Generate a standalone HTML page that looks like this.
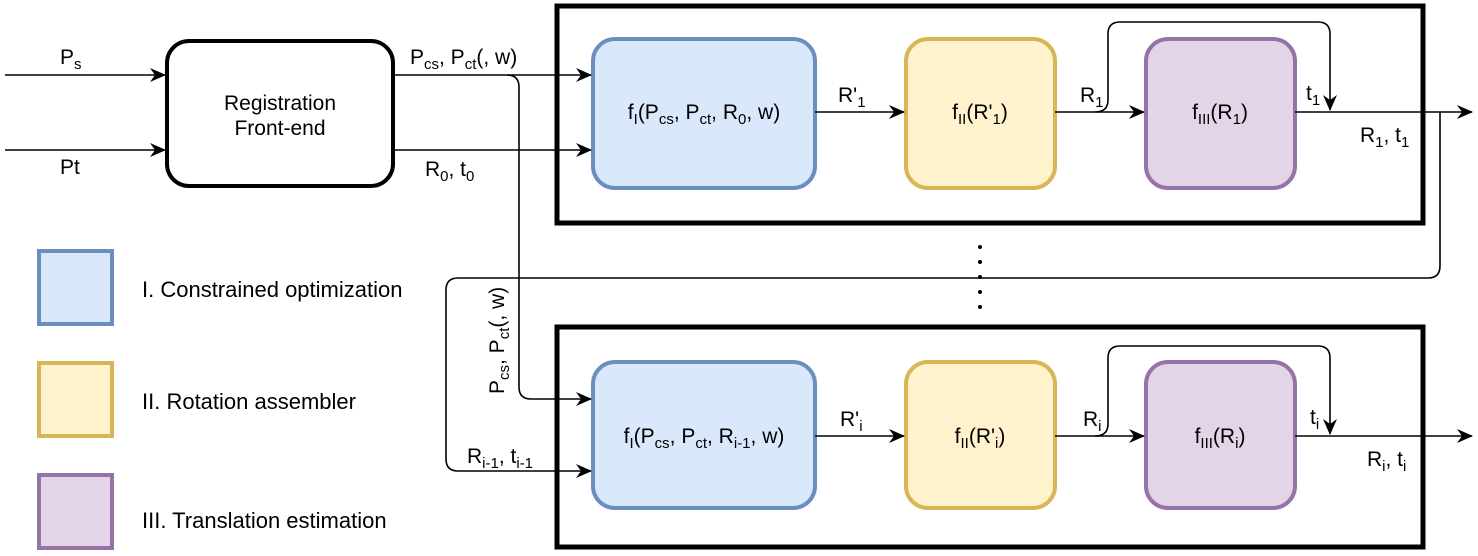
<!DOCTYPE html><html><head><style>body{margin:0;background:#fff}</style></head><body>
<svg width="1478" height="551" xmlns="http://www.w3.org/2000/svg" font-family="Liberation Sans, sans-serif" font-size="21">
<defs><marker id="a" markerWidth="16" markerHeight="14" refX="15" refY="7" orient="auto" markerUnits="userSpaceOnUse"><path d="M0,0 L16,7 L0,14 L5,7z" fill="#000"/></marker></defs>
<g fill="none" stroke="#000">
<rect x="557" y="6" width="866" height="217" stroke-width="5"/>
<rect x="557" y="327" width="866" height="220" stroke-width="5"/>
<rect x="167" y="41" width="226" height="145" rx="22" stroke-width="4"/>
</g>
<g stroke-width="4">
<rect x="593" y="39" width="222" height="149" rx="22" fill="#dae8fc" stroke="#6c8ebf"/>
<rect x="906" y="39" width="149" height="149" rx="22" fill="#fff2cc" stroke="#d6b656"/>
<rect x="1146" y="39" width="149" height="149" rx="22" fill="#e1d5e7" stroke="#9673a6"/>
<rect x="593" y="362" width="222" height="146" rx="22" fill="#dae8fc" stroke="#6c8ebf"/>
<rect x="906" y="362" width="149" height="146" rx="22" fill="#fff2cc" stroke="#d6b656"/>
<rect x="1146" y="362" width="149" height="146" rx="22" fill="#e1d5e7" stroke="#9673a6"/>
<rect x="39" y="251" width="73" height="73" fill="#dae8fc" stroke="#6c8ebf"/>
<rect x="39" y="363" width="73" height="73" fill="#fff2cc" stroke="#d6b656"/>
<rect x="39" y="475" width="73" height="73" fill="#e1d5e7" stroke="#9673a6"/>
</g>
<g fill="none" stroke="#000" stroke-width="1.6">
<path d="M5,75 H165" marker-end="url(#a)"/>
<path d="M5,150 H165" marker-end="url(#a)"/>
<path d="M395,75 H591" marker-end="url(#a)"/>
<path d="M395,150 H591" marker-end="url(#a)"/>
<path d="M507,75 Q519,75 519,87 V387 Q519,399 531,399 H591" marker-end="url(#a)"/>
<path d="M815,112 H904" marker-end="url(#a)"/>
<path d="M1055,112 H1144" marker-end="url(#a)"/>
<path d="M1095,112 Q1108,112 1108,100 V34 Q1108,22 1120,22 H1318 Q1330,22 1330,34 V110" marker-end="url(#a)"/>
<path d="M1295,112 H1472" marker-end="url(#a)"/>
<path d="M1440,112 V266 Q1440,278 1428,278 H458 Q446,278 446,290 V459 Q446,471 458,471 H591" marker-end="url(#a)"/>
<path d="M815,436 H904" marker-end="url(#a)"/>
<path d="M1055,436 H1144" marker-end="url(#a)"/>
<path d="M1095,436 Q1108,436 1108,424 V358 Q1108,346 1120,346 H1318 Q1330,346 1330,358 V434" marker-end="url(#a)"/>
<path d="M1295,436 H1472" marker-end="url(#a)"/>
</g>
<g fill="#000" stroke="none">
<circle cx="980" cy="247" r="2"/><circle cx="980" cy="262" r="2"/><circle cx="980" cy="277" r="2"/><circle cx="980" cy="292" r="2"/><circle cx="980" cy="307" r="2"/>
</g>
<g fill="#000">
<text x="60" y="64">P<tspan font-size="15" dy="5">s</tspan></text>
<text x="60" y="174">Pt</text>
<text x="280" y="110" text-anchor="middle">Registration</text>
<text x="280" y="135" text-anchor="middle">Front-end</text>
<text x="410" y="64">P<tspan font-size="15" dy="5">cs</tspan><tspan dy="-5">, P</tspan><tspan font-size="15" dy="5">ct</tspan><tspan dy="-5">(, w)</tspan></text>
<text x="425" y="176">R<tspan font-size="15" dy="5">0</tspan><tspan dy="-5">, t</tspan><tspan font-size="15" dy="5">0</tspan></text>
<text x="704" y="119" text-anchor="middle">f<tspan font-size="15" dy="5">I</tspan><tspan dy="-5">(P</tspan><tspan font-size="15" dy="5">cs</tspan><tspan dy="-5">, P</tspan><tspan font-size="15" dy="5">ct</tspan><tspan dy="-5">, R</tspan><tspan font-size="15" dy="5">0</tspan><tspan dy="-5">, w)</tspan></text>
<text x="838" y="102">R'<tspan font-size="15" dy="5">1</tspan></text>
<text x="980" y="119" text-anchor="middle">f<tspan font-size="15" dy="5">II</tspan><tspan dy="-5">(R'</tspan><tspan font-size="15" dy="5">1</tspan><tspan dy="-5">)</tspan></text>
<text x="1080" y="102">R<tspan font-size="15" dy="5">1</tspan></text>
<text x="1220" y="119" text-anchor="middle">f<tspan font-size="15" dy="5">III</tspan><tspan dy="-5">(R</tspan><tspan font-size="15" dy="5">1</tspan><tspan dy="-5">)</tspan></text>
<text x="1306" y="100">t<tspan font-size="15" dy="5">1</tspan></text>
<text x="1360" y="142">R<tspan font-size="15" dy="5">1</tspan><tspan dy="-5">, t</tspan><tspan font-size="15" dy="5">1</tspan></text>
<text transform="translate(504,394) rotate(-90)">P<tspan font-size="15" dy="5">cs</tspan><tspan dy="-5">, P</tspan><tspan font-size="15" dy="5">ct</tspan><tspan dy="-5">(, w)</tspan></text>
<text x="467" y="463">R<tspan font-size="15" dy="5">i-1</tspan><tspan dy="-5">, t</tspan><tspan font-size="15" dy="5">i-1</tspan></text>
<text x="704" y="443" text-anchor="middle">f<tspan font-size="15" dy="5">I</tspan><tspan dy="-5">(P</tspan><tspan font-size="15" dy="5">cs</tspan><tspan dy="-5">, P</tspan><tspan font-size="15" dy="5">ct</tspan><tspan dy="-5">, R</tspan><tspan font-size="15" dy="5">i-1</tspan><tspan dy="-5">, w)</tspan></text>
<text x="840" y="426">R'<tspan font-size="15" dy="5">i</tspan></text>
<text x="980" y="443" text-anchor="middle">f<tspan font-size="15" dy="5">II</tspan><tspan dy="-5">(R'</tspan><tspan font-size="15" dy="5">i</tspan><tspan dy="-5">)</tspan></text>
<text x="1083" y="426">R<tspan font-size="15" dy="5">i</tspan></text>
<text x="1220" y="443" text-anchor="middle">f<tspan font-size="15" dy="5">III</tspan><tspan dy="-5">(R</tspan><tspan font-size="15" dy="5">i</tspan><tspan dy="-5">)</tspan></text>
<text x="1310" y="424">t<tspan font-size="15" dy="5">i</tspan></text>
<text x="1367" y="466">R<tspan font-size="15" dy="5">i</tspan><tspan dy="-5">, t</tspan><tspan font-size="15" dy="5">i</tspan></text>
<text x="142" y="297" font-size="22">I. Constrained optimization</text>
<text x="142" y="409" font-size="22">II. Rotation assembler</text>
<text x="142" y="528" font-size="22">III. Translation estimation</text>
</g>
</svg>
</body></html>
